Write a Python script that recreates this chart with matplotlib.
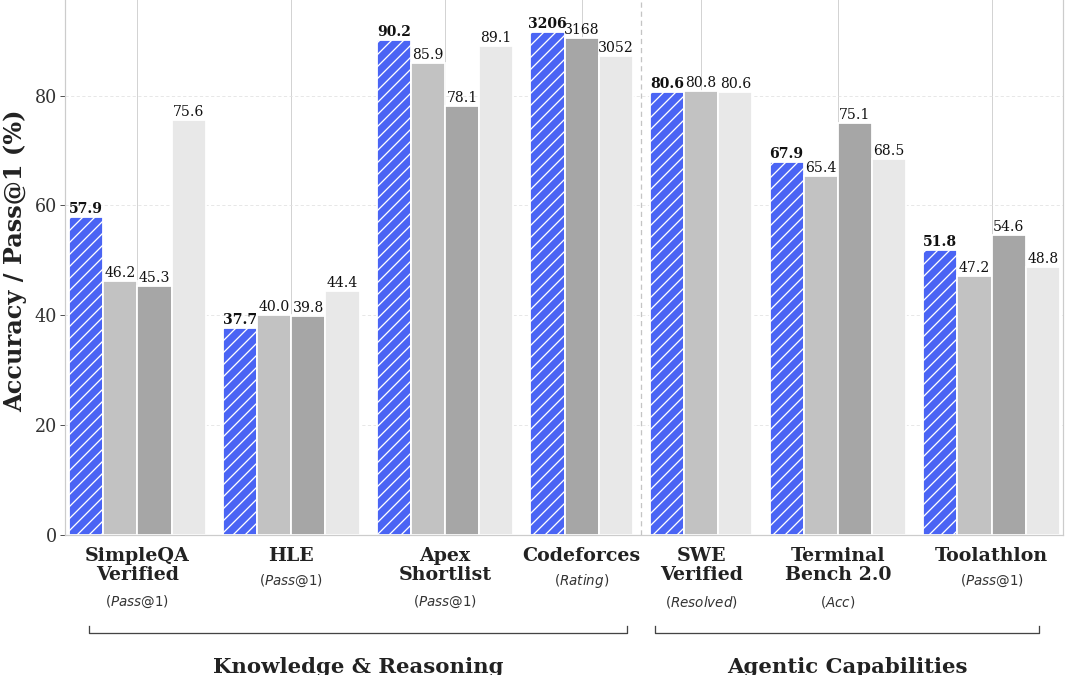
import matplotlib.pyplot as plt
import numpy as np

# benchmark groups and their metric notes
groups = ['SimpleQA\nVerified', 'HLE', 'Apex\nShortlist', 'Codeforces',
          'SWE\nVerified', 'Terminal\nBench 2.0', 'Toolathlon']
metrics = ['Pass', 'Pass', 'Pass', 'Rating', 'Resolved', 'Acc', 'Pass']
sections = ['Knowledge & Reasoning', 'Agentic Capabilities']
section_sizes = [4, 3]

# one list per model, None where the model has no score
model_a = [57.9, 37.7, 90.2, 3206, 80.6, 67.9, 51.8]
model_b = [46.2, 40.0, 85.9, None, 80.8, 65.4, 47.2]
model_c = [45.3, 39.8, 78.1, 3168, None, 75.1, 54.6]
model_d = [75.6, 44.4, 89.1, 3052, 80.6, 68.5, 48.8]
models = [model_a, model_b, model_c, model_d]
colors = ['#4a64f4', '#c2c2c2', '#a6a6a6', '#e8e8e8']

rating_idx = 3      # Codeforces is a rating, drawn scaled down
rating_scale = 35.0

plt.rcParams['hatch.linewidth'] = 1.3
serif = 'DejaVu Serif'
fig = plt.figure(figsize=(15, 9.375), dpi=72)
ax = fig.add_axes([0.0602, 0.2081, 0.9241, 0.8126])
ax_px = 9.375 * 72 * 0.8126

ax.set_axisbelow(True)
x0 = 0.0
centers = []
sep_x = None
for g in range(len(groups)):
    present = [(k, m[g]) for k, m in enumerate(models) if m[g] is not None]
    for j, (k, v) in enumerate(present):
        h = v / rating_scale if g == rating_idx else v
        xc = x0 + j + 0.5
        ax.bar(xc, h, width=1.0, color=colors[k], edgecolor='white',
               linewidth=1.8, hatch='//' if k == 0 else None)
        txt = f'{v:.0f}' if g == rating_idx else f'{v:.1f}'
        ax.annotate(txt, (xc, h), xytext=(0, 1), textcoords='offset points',
                    ha='center', va='bottom', fontsize=14, family=serif,
                    fontweight='bold' if k == 0 else 'normal', color='#111111')
    centers.append(x0 + len(present) / 2)
    x0 += len(present) + 0.5
    if g == section_sizes[0] - 1:
        sep_x = x0 - 0.25

ax.set_xlim(-0.12, x0 - 0.5 + 0.09)
ax.set_ylim(0, 100)
ax.set_yticks(np.arange(0, 81, 20))
ax.set_xticks(centers)
ax.set_xticklabels([])
ax.tick_params(axis='x', length=0)
ax.tick_params(axis='y', length=5, width=1, color='#555555', labelsize=17.5,
               labelcolor='#333333', pad=3)
for lab in ax.get_yticklabels():
    lab.set_family(serif)

ax.grid(axis='x', color='#d3d3d3', linewidth=1.0)
ax.grid(axis='y', color='#e2e2e2', linewidth=0.8, linestyle=(0, (4, 3)))
ax.axvline(sep_x, color='#c4c4c4', linewidth=1.3, linestyle=(0, (4, 3)))

for side in ['left', 'bottom', 'right']:
    ax.spines[side].set_color('#cccccc')
    ax.spines[side].set_linewidth(1.2)
ax.spines['top'].set_visible(False)

ax.set_ylabel('Accuracy / Pass@1 (%)', fontsize=24, family=serif,
              fontweight='bold', color='#222222')
ax.yaxis.set_label_coords(-0.0376, 0.5)

# group names and metric notes under the axis
for g, name in enumerate(groups):
    n_lines = name.count('\n') + 1
    ax.annotate(name, (centers[g], 0), xycoords=ax.get_xaxis_transform(),
                xytext=(0, -12.5), textcoords='offset points', ha='center',
                va='top', fontsize=19, family=serif, fontweight='bold',
                color='#222222', linespacing=1.08)
    m = metrics[g]
    note = rf'($\it{{{m}}}$@1)' if m == 'Pass' else rf'($\it{{{m}}}$)'
    ax.annotate(note, (centers[g], 0), xycoords=ax.get_xaxis_transform(),
                xytext=(0, -(46.5 + 20.6 * (n_lines - 1))),
                textcoords='offset points', ha='center', va='center',
                fontsize=13.5, color='#333333')

# section brackets
sep_frac = (sep_x + 0.12) / (x0 - 0.5 + 0.21)
spans = [(0.024, sep_frac - 0.014), (sep_frac + 0.014, 0.976)]
y_line = -98.8 / ax_px
y_tick = -91.2 / ax_px
for (a, b), title in zip(spans, sections):
    ax.plot([a, a, b, b], [y_tick, y_line, y_line, y_tick], color='#444444',
            linewidth=1.3, transform=ax.transAxes, clip_on=False)
    ax.text((a + b) / 2, -122 / ax_px, title, transform=ax.transAxes,
            ha='center', va='top', fontsize=21.3, family=serif,
            fontweight='bold', color='#222222')

fig.savefig('out.png', dpi=72)
